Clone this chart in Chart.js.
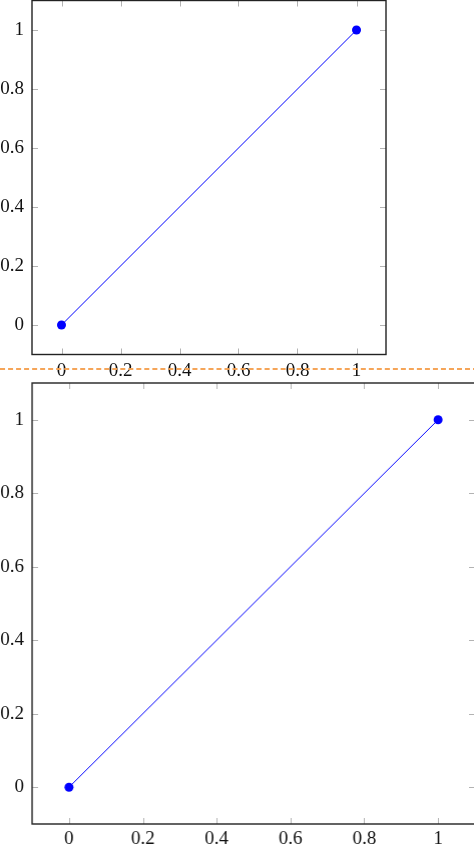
<!DOCTYPE html>
<html>
<head>
<meta charset="utf-8">
<script src="https://cdn.jsdelivr.net/npm/chart.js@4/dist/chart.umd.min.js"></script>
<style>
  html,body{margin:0;padding:0;background:#fff;overflow:hidden}
  body{width:474px;height:844px;position:relative}
  /* shifted to cancel the point-radius padding chart.js keeps around the area */
  #wrap1{position:absolute;left:0;top:-4.5px;width:400px;height:384.5px}
  #wrap2{position:absolute;left:0;top:360px;width:478.5px;height:484px}
</style>
</head>
<body>
<div id="wrap1"><canvas id="chart1"></canvas></div>
<div id="wrap2"><canvas id="chart2"></canvas></div>
<script>
// data
const xValues=[0,1]
const yValues=[0,1]
const tickValues=[0,0.2,0.4,0.6,0.8,1]
const axisMin=-0.1
const axisMax=1.1

const font={family:"'Liberation Serif','DejaVu Serif',serif",size:19}

// frame + inner ticks, pgfplots style
const framePlugin={
  id:'frame',
  afterDatasetsDraw(chart){
    const {ctx,chartArea:a,scales}=chart
    ctx.save()
    ctx.strokeStyle='#b3b3b3'
    ctx.lineWidth=1
    const len=6
    ctx.beginPath()
    for(const v of tickValues){
      const px=Math.round(scales.x.getPixelForValue(v))+0.5
      ctx.moveTo(px,a.bottom);ctx.lineTo(px,a.bottom-len)
      ctx.moveTo(px,a.top);ctx.lineTo(px,a.top+len)
      const py=Math.round(scales.y.getPixelForValue(v))+0.5
      ctx.moveTo(a.left,py);ctx.lineTo(a.left+len,py)
      ctx.moveTo(a.right,py);ctx.lineTo(a.right-len,py)
    }
    ctx.stroke()
    ctx.strokeStyle='#222'
    ctx.lineWidth=1.4
    ctx.strokeRect(a.left,a.top,a.right-a.left,a.bottom-a.top)
    ctx.restore()
  }
}

// orange dashed separator at top of second canvas
const sepPlugin={
  id:'sep',
  afterDraw(chart){
    const ctx=chart.ctx
    ctx.save()
    ctx.strokeStyle='rgba(244,160,80,0.95)'
    ctx.lineWidth=2
    ctx.setLineDash([5,3])
    ctx.beginPath()
    ctx.moveTo(0,9);ctx.lineTo(chart.width,9)
    ctx.stroke()
    ctx.restore()
  }
}

function makeChart(id,opts){
  const pts=xValues.map((x,i)=>({x:x,y:yValues[i]}))
  return new Chart(document.getElementById(id),{
    type:'line',
    data:{
      datasets:[{
        data:pts,
        borderColor:'#0000ff',
        borderWidth:1,
        backgroundColor:'#0000ff',
        pointRadius:4.5,
        pointBorderWidth:0,
        pointHoverRadius:4.5,
        tension:0
      }]
    },
    options:{
      responsive:true,
      maintainAspectRatio:false,
      animation:false,
      events:[],
      layout:{padding:opts.padding},
      plugins:{legend:{display:false},tooltip:{enabled:false}},
      scales:{
        x:{
          type:'linear',
          min:axisMin,max:axisMax,
          afterBuildTicks(s){s.ticks=tickValues.map(v=>({value:v}))},
          afterFit(s){s.height=opts.xh;s.paddingLeft=0;s.paddingRight=0},
          grid:{display:false,drawTicks:false},
          border:{display:false},
          ticks:{color:'#111',font:font,padding:opts.xpad,maxRotation:0,autoSkip:false,callback:v=>String(v)}
        },
        y:{
          type:'linear',
          min:axisMin,max:axisMax,
          afterBuildTicks(s){s.ticks=tickValues.map(v=>({value:v}))},
          afterFit(s){s.width=32;s.paddingTop=0;s.paddingBottom=0},
          grid:{display:false,drawTicks:false},
          border:{display:false},
          ticks:{color:'#111',font:font,padding:8,autoSkip:false,callback:v=>String(v)}
        }
      }
    },
    plugins:opts.sep?[framePlugin,sepPlugin]:[framePlugin]
  })
}

makeChart('chart1',{padding:{top:0,right:14,left:0,bottom:0},xh:26,xpad:5})
makeChart('chart2',{padding:{top:23,right:0,left:0,bottom:0},xh:20,xpad:4,sep:true})
</script>
</body>
</html>
